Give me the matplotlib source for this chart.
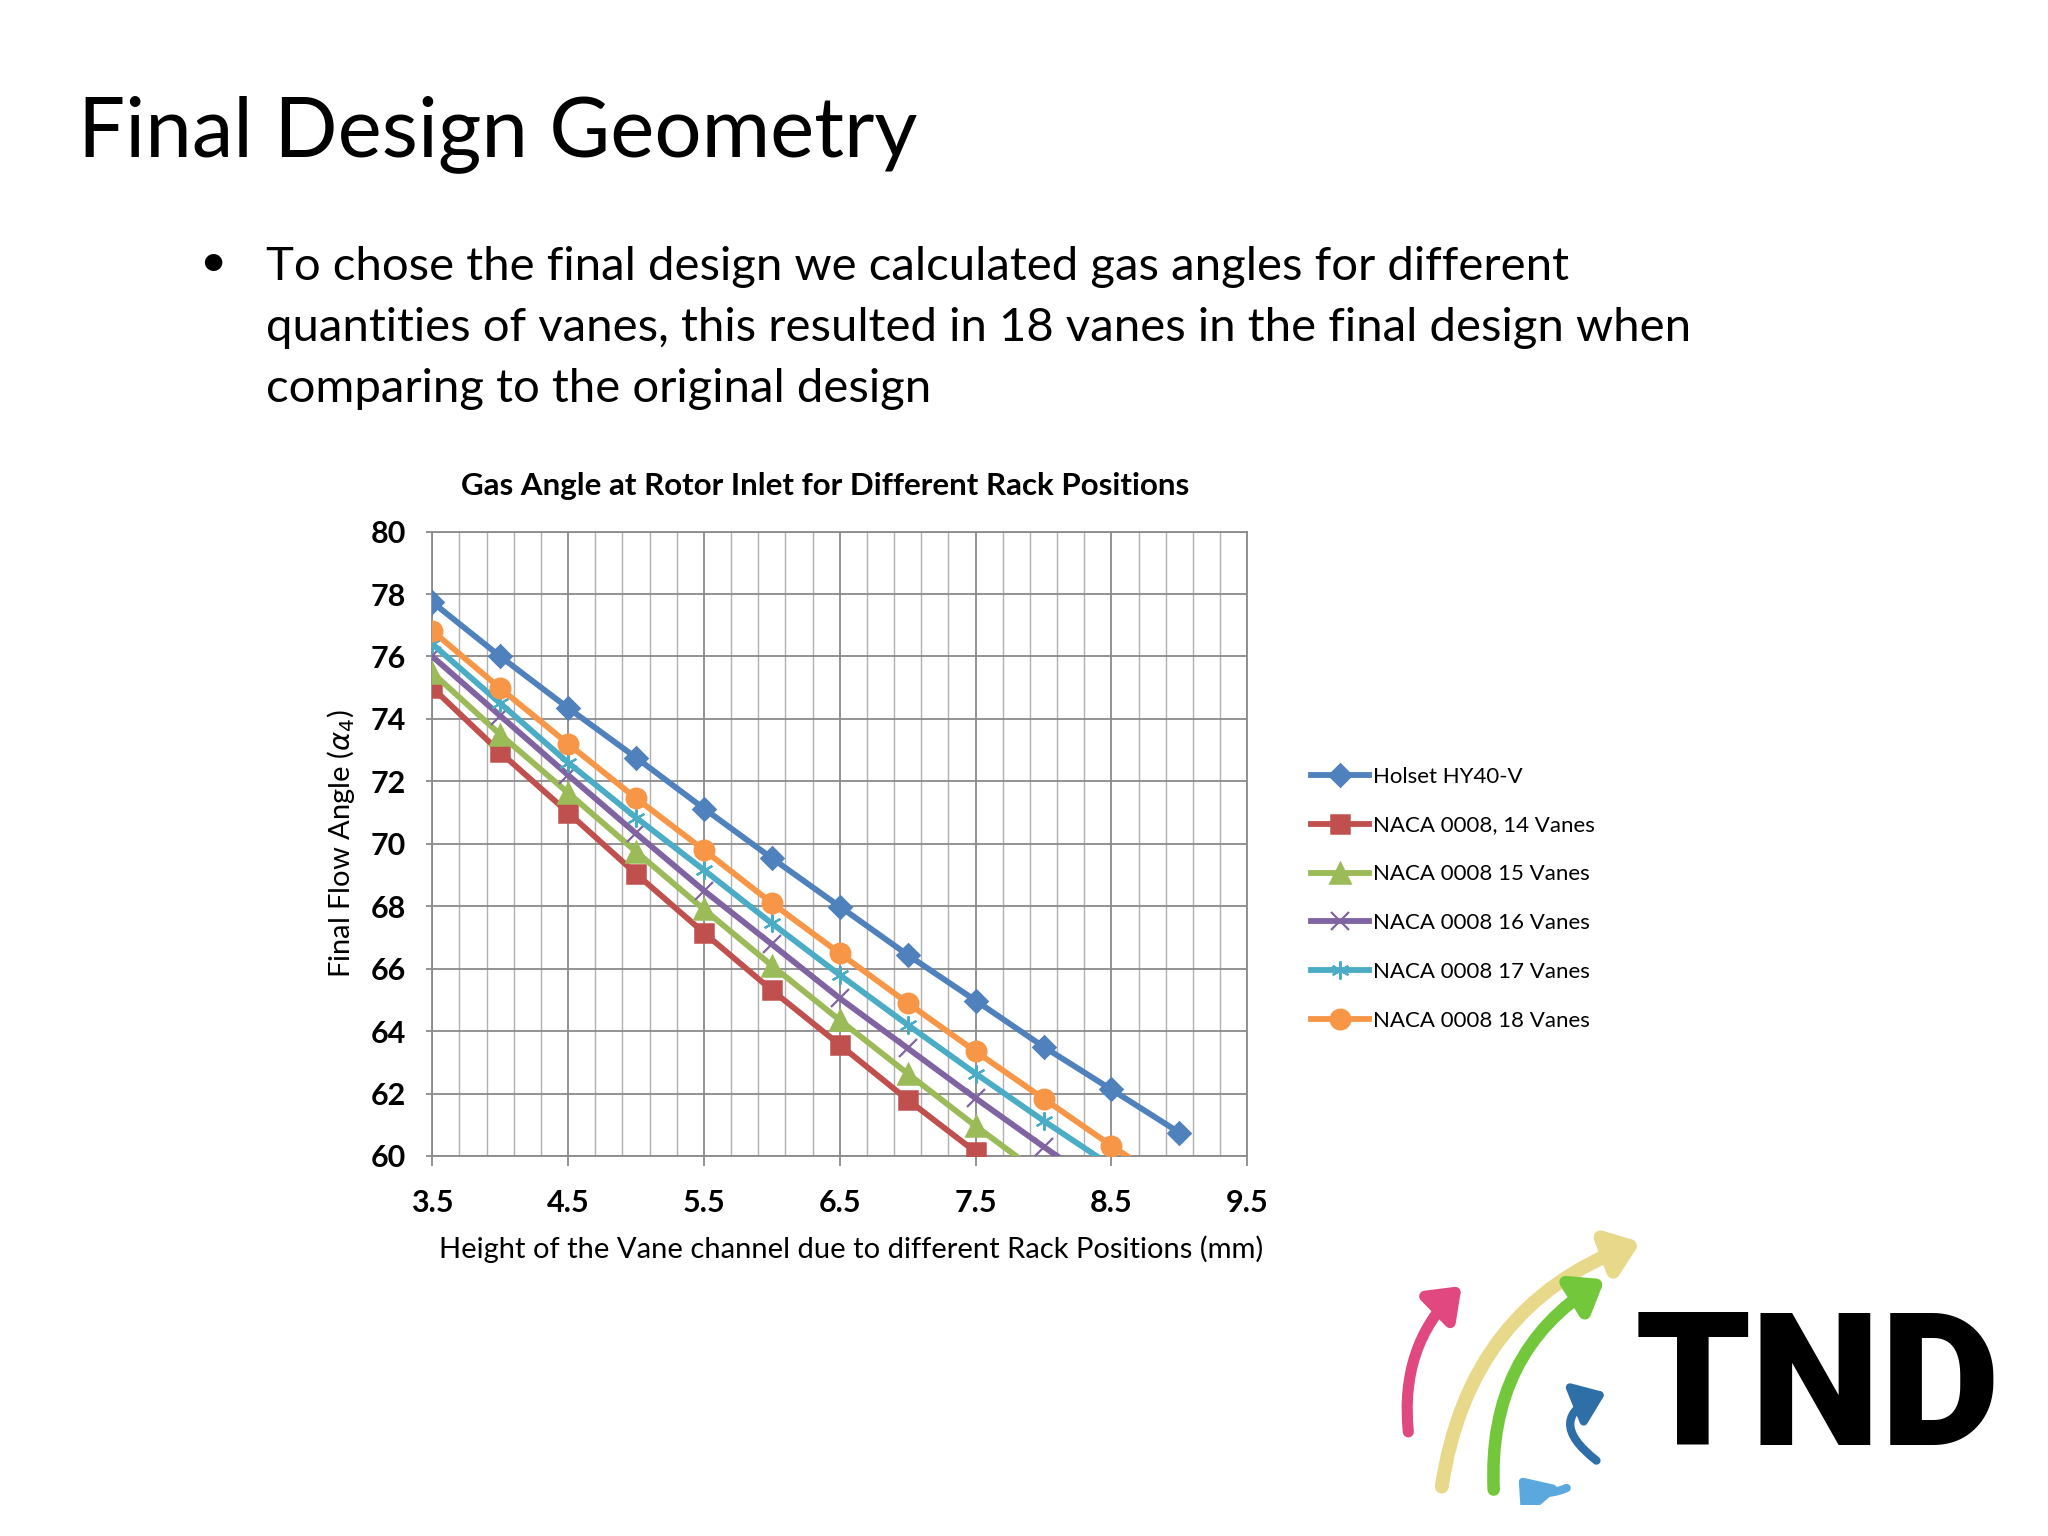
import numpy as np
import matplotlib
matplotlib.use("Agg")
import matplotlib.pyplot as plt
from matplotlib.patches import FancyArrowPatch

plt.rcParams["font.family"] = ["Lato", "DejaVu Sans"]

# Data
x_holset = [3.5, 4.0, 4.5, 5.0, 5.5, 6.0, 6.5, 7.0, 7.5, 8.0, 8.5, 9.0]
holset = [77.74, 76.0, 74.35, 72.76, 71.13, 69.54, 67.99, 66.44, 64.98, 63.5, 62.13, 60.75]

x_14 = [3.5, 4.0, 4.5, 5.0, 5.5, 6.0, 6.5, 7.0, 7.5]
vanes_14 = [75.0, 72.93, 71.0, 69.04, 67.15, 65.31, 63.56, 61.8, 60.13]

x_15 = [3.5, 4.0, 4.5, 5.0, 5.5, 6.0, 6.5, 7.0, 7.5, 8.0]
vanes_15 = [75.48, 73.5, 71.63, 69.75, 67.9, 66.1, 64.35, 62.64, 60.96, 59.35]

x_16 = [3.5, 4.0, 4.5, 5.0, 5.5, 6.0, 6.5, 7.0, 7.5, 8.0, 8.5]
vanes_16 = [76.0, 74.1, 72.2, 70.33, 68.5, 66.78, 65.05, 63.45, 61.85, 60.3, 58.8]

x_17 = [3.5, 4.0, 4.5, 5.0, 5.5, 6.0, 6.5, 7.0, 7.5, 8.0, 8.5]
vanes_17 = [76.4, 74.5, 72.6, 70.84, 69.16, 67.45, 65.8, 64.2, 62.64, 61.13, 59.68]

x_18 = [3.5, 4.0, 4.5, 5.0, 5.5, 6.0, 6.5, 7.0, 7.5, 8.0, 8.5, 9.0]
vanes_18 = [76.82, 74.98, 73.2, 71.46, 69.8, 68.1, 66.49, 64.9, 63.35, 61.84, 60.33, 58.9]

labels = ["Holset HY40-V", "NACA 0008, 14 Vanes", "NACA 0008 15 Vanes",
          "NACA 0008 16 Vanes", "NACA 0008 17 Vanes", "NACA 0008 18 Vanes"]
colors = ["#4F81BD", "#C0504D", "#9BBB59", "#8064A2", "#4BACC6", "#F79646"]
markers = ["D", "s", "^", "x", (6, 2, 0), "o"]
msizes = [11, 13.5, 14, 13, 13, 14]
medges = [1.8, 1.8, 1.8, 1.6, 1.6, 1.8]

bullet_lines = ["To chose the final design we calculated gas angles for different",
                "quantities of vanes, this resulted in 18 vanes in the final design when",
                "comparing to the original design"]

fig = plt.figure(figsize=(20.48, 15.36), dpi=100)

# slide text
fig.text(0.038, 0.898, "Final Design Geometry", fontsize=60, va="baseline", ha="left")
fig.text(0.097, 0.829, "\u2022", fontsize=34, va="center", ha="left")
for i, line in enumerate(bullet_lines):
    fig.text(0.130, 0.818 - 0.04 * i, line, fontsize=34, va="baseline", ha="left")

ax = fig.add_axes([0.2111, 0.2474, 0.3979, 0.4065])
series = [(x_holset, holset), (x_14, vanes_14), (x_15, vanes_15),
          (x_16, vanes_16), (x_17, vanes_17), (x_18, vanes_18)]
for (xs, ys), lab, c, m, s, mew in zip(series, labels, colors, markers, msizes, medges):
    ax.plot(xs, ys, color=c, lw=4.2, marker=m, markersize=s, label=lab,
            markeredgecolor=c, markeredgewidth=mew, zorder=3)

ax.set_xlim(3.5, 9.5)
ax.set_ylim(60, 80)
ax.set_xticks(np.arange(3.5, 9.6, 1.0))
ax.set_xticks(np.arange(3.5, 9.51, 0.2), minor=True)
ax.set_yticks(np.arange(60, 81, 2))
ax.grid(which="major", color="#8a8a8a", lw=1.3)
ax.grid(which="minor", axis="x", color="#b0b0b0", lw=1.0)
ax.tick_params(axis="both", which="major", labelsize=22, color="#8a8a8a", width=1.3)
ax.tick_params(axis="x", which="major", length=7, pad=17)
ax.tick_params(axis="y", which="major", length=4, pad=15)
ax.tick_params(axis="x", which="minor", length=0)
for t in ax.get_xticklabels() + ax.get_yticklabels():
    t.set_fontweight("bold")
for sp in ax.spines.values():
    sp.set_color("#8a8a8a")
    sp.set_linewidth(1.3)

ax.text(0.482, 1.073, "Gas Angle at Rotor Inlet for Different Rack Positions",
        transform=ax.transAxes, fontsize=22.5, fontweight="bold", ha="center", va="center")
ax.set_xlabel("Height of the Vane channel due to different Rack Positions (mm)", fontsize=21)
ax.set_ylabel(r"Final Flow Angle ($\alpha_4$)", fontsize=21)
ax.xaxis.set_label_coords(0.514, -0.1485)
ax.xaxis.label.set_va("center")
ax.yaxis.set_label_coords(-0.112, 0.5)
ax.yaxis.label.set_va("center")

ax.legend(loc="center left", bbox_to_anchor=(1.054, 0.412), frameon=False,
          fontsize=16, handlelength=2.6, handletextpad=0.2, labelspacing=1.3)

# TND logo
lax = fig.add_axes([0.675, 0.02, 0.32, 0.2])
lax.set_xlim(0, 10)
lax.set_ylim(0, 5)
lax.axis("off")
lax.text(3.85, 1.8, "TND", fontsize=133, fontweight="black", va="center", ha="left",
         family=["Roboto", "DejaVu Sans"])
arrows = [((0.4, 1.15), (1.24, 3.6), "#E0487F", -0.25, 8),
          ((0.9, 0.26), (3.98, 4.3), "#E8D98A", -0.3, 10),
          ((1.7, 0.21), (3.43, 3.7), "#72C83A", -0.3, 9),
          ((2.85, 0.3), (2.05, 0.5), "#5BA8DF", -0.4, 6),
          ((3.3, 0.7), (3.45, 1.85), "#2E6FA8", -0.9, 6)]
for start, end, col, rad, w in arrows:
    lax.add_patch(FancyArrowPatch(start, end, connectionstyle="arc3,rad=%s" % rad,
                                  arrowstyle="-|>,head_length=0.8,head_width=0.6",
                                  color=col, lw=w, mutation_scale=22))

fig.savefig("out.png", dpi=100)
